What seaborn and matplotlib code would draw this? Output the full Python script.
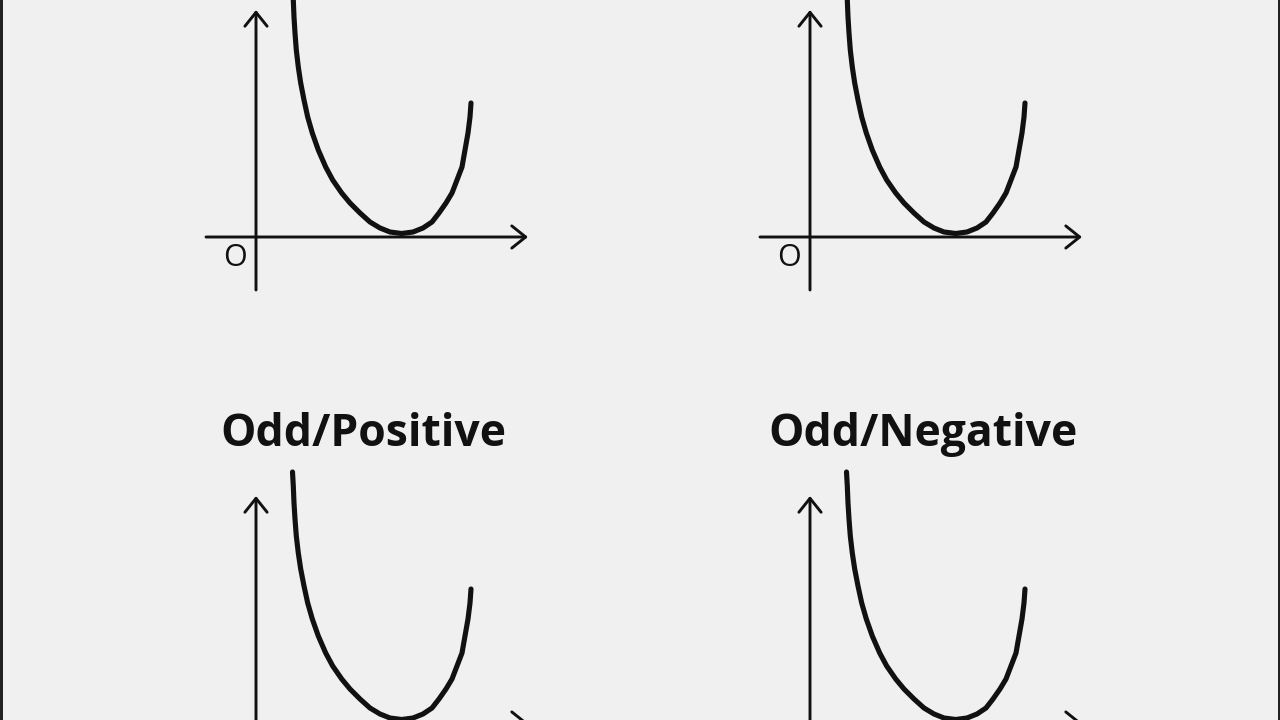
import matplotlib
matplotlib.use("Agg")
import matplotlib.pyplot as plt
import seaborn as sns
import pandas as pd
from matplotlib.patches import Rectangle

# ---------- DATA ----------
# the U-shaped curve (px from the axis origin, x right / y up)
curve_x = [36.5, 37.3, 38, 39, 40.3, 42.3, 44.7, 48, 51.7, 56.3, 62.3, 69.7, 76.7,
           85.7, 94, 104, 114, 124, 134, 145.7, 157, 167, 176, 183, 190, 196, 201,
           206, 209, 212, 214, 215]
curve_y = [251, 237, 220, 204, 187, 170, 154, 137, 120, 104, 87, 70, 57,
           44, 34, 24, 15, 9, 5, 3.5, 5, 9, 15, 24, 34, 44, 57,
           70, 87, 104, 120, 134]

titles = ["", "", "Odd/Positive", "Odd/Negative"]
origin_labels = ["O", "O", "", ""]   # the bottom two fall below the frame

# ---------- CONFIG ----------
sns.set_theme(style="white")
plt.rcParams["font.family"] = ["Open Sans", "DejaVu Sans"]

W, H = 1280, 720
BG = "#f0f0f0"
INK = "#111111"

# origin of each small graph in figure px (x from left, y from top), and the
# vertical px band the panel occupies
panels = [
    dict(ox=256, oy=237, top=0, bottom=300, title_dx=0),
    dict(ox=810, oy=237, top=0, bottom=300, title_dx=0),
    dict(ox=256, oy=723, top=400, bottom=720, title_dx=107.5),
    dict(ox=810, oy=723, top=400, bottom=720, title_dx=113),
]

df = pd.DataFrame({"x": curve_x, "y": curve_y})

fig = plt.figure(figsize=(W / 100, H / 100), dpi=100, facecolor=BG)

arrow = dict(arrowstyle="->,head_length=0.5,head_width=0.4", mutation_scale=20,
             lw=2.1, color=INK, shrinkA=0, shrinkB=0)

for p, title, olab in zip(panels, titles, origin_labels):
    left, right = p["ox"] - 100, p["ox"] + 320
    ax = fig.add_axes([left / W, 1 - p["bottom"] / H,
                       (right - left) / W, (p["bottom"] - p["top"]) / H])
    ax.set_xlim(-100, 320)
    ax.set_ylim(p["oy"] - p["bottom"], p["oy"] - p["top"])
    ax.axis("off")
    ax.patch.set_alpha(0)

    # axes with arrow heads
    ax.annotate("", xy=(0, 227), xytext=(0, -53), arrowprops=arrow,
                annotation_clip=False)
    ax.annotate("", xy=(272, 0), xytext=(-50, 0), arrowprops=arrow,
                annotation_clip=False)

    sns.lineplot(data=df, x="x", y="y", sort=False, estimator=None, ax=ax,
                 color=INK, lw=3.7, solid_capstyle="round",
                 solid_joinstyle="round", legend=False)

    if olab:
        ax.text(-21, -21, olab, ha="center", va="center", fontsize=22,
                color=INK)

    if title:
        ax.text(p["title_dx"], p["oy"] - 446, title, ha="center", va="baseline",
                fontsize=32, fontweight="bold", color=INK, clip_on=False)

# thin dark frame lines at the left and right edges
fig.add_artist(Rectangle((0, 0), 2.5 / W, 1, transform=fig.transFigure,
                         color="#222222", lw=0))
fig.add_artist(Rectangle((1 - 2.5 / W, 0), 2.5 / W, 1, transform=fig.transFigure,
                         color="#222222", lw=0))

fig.savefig("out.png", dpi=100, facecolor=BG)
